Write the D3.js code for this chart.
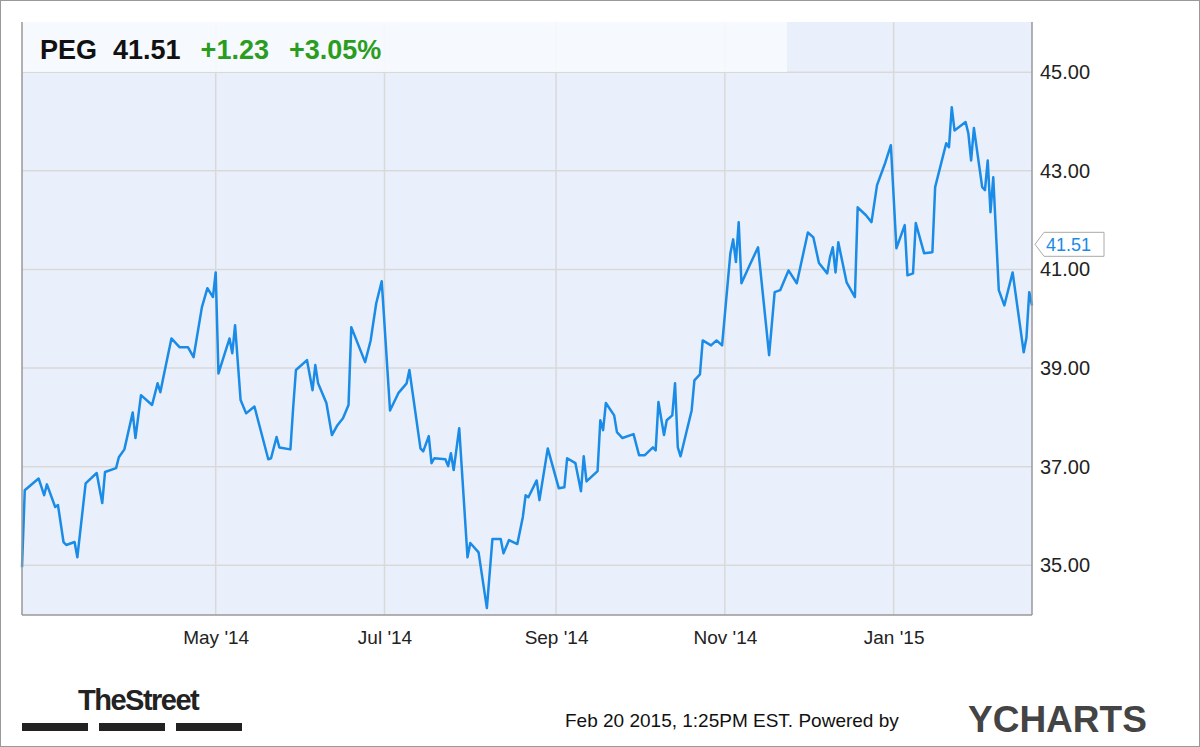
<!DOCTYPE html>
<html><head><meta charset="utf-8">
<script src="https://cdn.jsdelivr.net/npm/d3@7"></script>
<style>body{margin:0;background:#fff;font-family:Arial,"Liberation Sans",sans-serif}</style>
</head><body>
<script>
// days since Feb 20 2014, closing price
days = [0,1,6,8,9,12,13,15,16,19,20,23,27,29,30,34,35,37,40,41,43,47,49,50,51,54,57,60,62,65,67,69,70,71,75,76,77,79,81,84,89,90,92,93,97,98,99,103,105,106,107,110,112,114,116,118,119,124,126,128,130,133,136,139,140,144,145,147,148,149,153,154,155,156,158,161,162,165,168,170,173,174,176,179,181,182,183,186,187,190,194,196,197,200,202,203,204,208,209,210,211,214,215,217,221,223,225,228,229,230,232,233,235,236,237,238,242,243,245,246,249,251,253,256,257,258,259,260,263,266,270,272,274,277,280,284,286,288,291,292,293,294,295,298,301,302,305,307,309,312,314,316,319,320,322,323,326,329,330,334,335,336,337,341,342,343,344,347,348,349,350,351,353,355,358,362,363,364,365];
prices = [34.96,36.52,36.76,36.42,36.64,36.18,36.22,35.47,35.41,35.47,35.16,36.66,36.87,36.26,36.89,36.97,37.19,37.35,38.10,37.58,38.45,38.25,38.69,38.51,38.79,39.60,39.42,39.42,39.22,40.23,40.62,40.44,40.94,38.89,39.60,39.30,39.87,38.35,38.08,38.22,37.15,37.17,37.60,37.39,37.35,38.20,38.96,39.16,38.55,39.06,38.69,38.29,37.64,37.84,37.98,38.25,39.83,39.12,39.56,40.31,40.76,38.14,38.49,38.69,38.96,37.37,37.31,37.62,37.07,37.17,37.15,37.01,37.27,36.93,37.78,35.16,35.45,35.26,34.13,35.53,35.53,35.24,35.51,35.43,35.98,36.42,36.38,36.72,36.32,37.37,36.56,36.58,37.17,37.07,36.50,37.21,36.70,36.91,37.94,37.74,38.29,38.04,37.70,37.58,37.66,37.23,37.23,37.39,37.33,38.31,37.64,37.94,38.04,38.69,37.39,37.21,38.14,38.75,38.87,39.56,39.46,39.56,39.46,41.33,41.61,41.15,41.96,40.72,41.09,41.45,39.26,40.54,40.58,40.98,40.72,41.75,41.65,41.13,40.92,41.25,41.45,40.94,41.55,40.74,40.44,42.26,42.10,41.96,42.71,43.17,43.52,41.43,41.90,40.88,40.92,41.94,41.33,41.35,42.67,43.56,43.48,44.29,43.82,43.99,43.76,43.21,43.87,42.67,42.61,43.21,42.16,42.87,40.58,40.27,40.94,39.32,39.62,40.54,40.27,41.51];
yTicks = [35, 37, 39, 41, 43, 45];
xTicks = ["2014-05-01","2014-07-01","2014-09-01","2014-11-01","2015-01-01"];
ticker = "PEG", last = "41.51", chg = "+1.23", pct = "+3.05%";

W = 1200; H = 747;
L = 22; R = 1032; T = 22; B = 615;
start = new Date(2014, 1, 20);
data = days.map((d, i) => ({date: d3.timeDay.offset(start, d), v: prices[i]}));

svg = d3.select('body').append('svg').attr('width', W).attr('height', H)
  .style('font-family', 'Arial, "Liberation Sans", sans-serif');
svg.append('rect').attr('x', 0.5).attr('y', 0.5).attr('width', W - 1).attr('height', H - 1)
  .attr('fill', '#fff').attr('stroke', '#999');

x = d3.scaleTime().domain([start, new Date(2015, 1, 20)]).range([L, R]);
y = d3.scaleLinear().domain([33.99, 46.02]).range([B, T]);

svg.append('rect').attr('x', L).attr('y', T).attr('width', R - L).attr('height', B - T).attr('fill', '#eaf0fb');

g = svg.append('g');
g.selectAll('line.h').data(yTicks).enter().append('line')
  .attr('x1', L).attr('x2', R).attr('y1', d => y(d)).attr('y2', d => y(d))
  .attr('stroke', '#d9d9d9').attr('stroke-width', 1.5);
g.selectAll('line.v').data(xTicks).enter().append('line')
  .attr('x1', d => x(new Date(d + 'T00:00'))).attr('x2', d => x(new Date(d + 'T00:00')))
  .attr('y1', T).attr('y2', B).attr('stroke', '#d9d9d9').attr('stroke-width', 1.5);

// header box
svg.append('rect').attr('x', L).attr('y', T).attr('width', 765).attr('height', 50).attr('fill', '#f7f9fd').attr('opacity', 0.9);
hdr = svg.append('text').attr('x', 40).attr('y', 59).attr('font-size', 27).attr('font-weight', 'bold');
hdr.append('tspan').text(ticker).attr('fill', '#111');
hdr.append('tspan').text(last).attr('fill', '#111').attr('dx', 16);
hdr.append('tspan').text(chg).attr('fill', '#2a9d1e').attr('dx', 20);
hdr.append('tspan').text(pct).attr('fill', '#2a9d1e').attr('dx', 20);

line = d3.line().x(d => x(d.date)).y(d => y(d.v));
svg.append('path').datum(data).attr('d', line).attr('fill', 'none')
  .attr('stroke', '#1a8be6').attr('stroke-width', 2.5).attr('stroke-linejoin', 'round');

// axes frame
svg.append('line').attr('x1', R).attr('x2', R).attr('y1', T).attr('y2', B).attr('stroke', '#999').attr('stroke-width', 1.5);
svg.append('line').attr('x1', L).attr('x2', R).attr('y1', B).attr('y2', B).attr('stroke', '#999').attr('stroke-width', 1.5);
svg.append('line').attr('x1', L).attr('x2', L).attr('y1', T).attr('y2', B).attr('stroke', '#999').attr('stroke-width', 1.5);

yAxis = d3.axisRight(y).tickValues(yTicks).tickFormat(d3.format('.2f')).tickSize(0).tickPadding(8);
ya = svg.append('g').attr('transform', `translate(${R},0)`).call(yAxis);
ya.select('.domain').remove();
ya.selectAll('text').attr('font-size', 20).attr('fill', '#222').attr('font-family', 'Arial, "Liberation Sans", sans-serif');

xAxis = d3.axisBottom(x).tickValues(xTicks.map(d => new Date(d + 'T00:00')))
  .tickFormat(d => d3.timeFormat("%b '%y")(d)).tickSize(0).tickPadding(16);
xa = svg.append('g').attr('transform', `translate(0,${B})`).call(xAxis);
xa.select('.domain').remove();
xa.selectAll('text').attr('font-size', 19).attr('fill', '#222').attr('font-family', 'Arial, "Liberation Sans", sans-serif');

// last price tag
ly = y(prices[prices.length - 1]);
svg.append('path').attr('d', `M${R + 3},${ly} l9,-12 h60 v24 h-60 z`).attr('fill', '#fff').attr('stroke', '#aaa');
svg.append('text').attr('x', R + 14).attr('y', ly + 7).attr('font-size', 18).attr('fill', '#1a8be6').text(last);

// footer
svg.append('text').attr('x', 78).attr('y', 710).attr('font-size', 29).attr('font-weight', 'bold')
  .attr('fill', '#222').attr('letter-spacing', -1.5).attr('font-family', '"Liberation Sans Narrow", Arial, sans-serif').text('TheStreet');
[22, 99, 176].forEach(bx => svg.append('rect').attr('x', bx).attr('y', 723).attr('width', 66).attr('height', 8).attr('fill', '#222'));
svg.append('text').attr('x', 565).attr('y', 727).attr('font-size', 19).attr('fill', '#111').text('Feb 20 2015, 1:25PM EST.  Powered by');
svg.append('text').attr('x', 968).attr('y', 732).attr('font-size', 37).attr('font-weight', 'bold').attr('fill', '#444').text('YCHARTS');
</script>
</body></html>
